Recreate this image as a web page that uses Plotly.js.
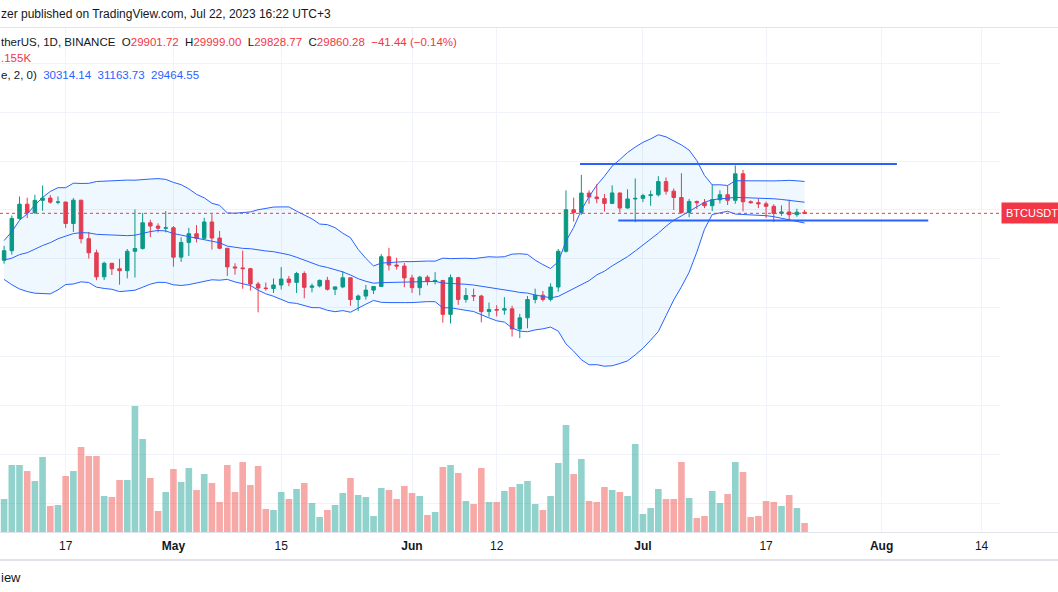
<!DOCTYPE html>
<html>
<head>
<meta charset="utf-8">
<script src="https://cdn.plot.ly/plotly-3.0.1.min.js"></script>
<style>
  html, body { margin: 0; padding: 0; background: #ffffff; overflow: hidden; }
  #chart { width: 1058px; height: 592px; }
</style>
</head>
<body>
<div id="chart"></div>
<script>
// BTCUSDT daily candles, Binance
const dates = [
  '2023-04-09','2023-04-10','2023-04-11','2023-04-12','2023-04-13','2023-04-14','2023-04-15','2023-04-16','2023-04-17','2023-04-18',
  '2023-04-19','2023-04-20','2023-04-21','2023-04-22','2023-04-23','2023-04-24','2023-04-25','2023-04-26','2023-04-27','2023-04-28',
  '2023-04-29','2023-04-30','2023-05-01','2023-05-02','2023-05-03','2023-05-04','2023-05-05','2023-05-06','2023-05-07','2023-05-08',
  '2023-05-09','2023-05-10','2023-05-11','2023-05-12','2023-05-13','2023-05-14','2023-05-15','2023-05-16','2023-05-17','2023-05-18',
  '2023-05-19','2023-05-20','2023-05-21','2023-05-22','2023-05-23','2023-05-24','2023-05-25','2023-05-26','2023-05-27','2023-05-28',
  '2023-05-29','2023-05-30','2023-05-31','2023-06-01','2023-06-02','2023-06-03','2023-06-04','2023-06-05','2023-06-06','2023-06-07',
  '2023-06-08','2023-06-09','2023-06-10','2023-06-11','2023-06-12','2023-06-13','2023-06-14','2023-06-15','2023-06-16','2023-06-17',
  '2023-06-18','2023-06-19','2023-06-20','2023-06-21','2023-06-22','2023-06-23','2023-06-24','2023-06-25','2023-06-26','2023-06-27',
  '2023-06-28','2023-06-29','2023-06-30','2023-07-01','2023-07-02','2023-07-03','2023-07-04','2023-07-05','2023-07-06','2023-07-07',
  '2023-07-08','2023-07-09','2023-07-10','2023-07-11','2023-07-12','2023-07-13','2023-07-14','2023-07-15','2023-07-16','2023-07-17',
  '2023-07-18','2023-07-19','2023-07-20','2023-07-21','2023-07-22'
];

const openP = [
  27941,28333,29652,30235,29884,30390,30485,30318,30322,29445,
  30397,28822,28246,27262,27817,27591,27514,28307,28423,29473,
  29340,29249,29269,28068,28669,29026,28838,29506,28849,28430,
  27668,27628,27598,26969,26805,26784,26930,27171,27036,27399,
  26833,26890,27118,26753,26851,27225,26334,26476,26719,26868,
  28085,27745,27702,27219,26819,27249,27069,27116,25728,27230,
  26339,26499,26477,25841,25925,25902,25954,25129,25587,26336,
  26510,26340,26845,28308,30007,29895,30688,30527,30462,30267,
  30693,30077,30447,30472,30586,30617,31157,30766,30507,29896,
  30346,30292,30171,30415,30620,30391,31476,30335,30297,30249,
  30145,29857,29917,29806,29901.72
];
const highP = [
  28530,29770,30550,30500,30620,31000,30610,30550,30330,30485,
  30412,29100,28374,27882,27820,28000,28400,30020,29880,29599,
  29454,29952,29338,28879,29266,29379,29677,29820,29138,28436,
  27818,28336,27630,27055,27030,27194,27664,27299,27465,27485,
  26988,27150,27264,26857,27495,27225,26538,26931,26888,28193,
  28447,28044,27831,27350,27300,27325,27455,27129,27355,27265,
  26810,26780,26527,26210,26104,26433,26080,25750,26478,26778,
  26684,26998,28402,30800,30500,31431,30800,31046,30650,31006,
  30703,30843,31283,30660,30792,31380,31330,30877,31500,30449,
  30383,30445,31045,30800,30993,31818,31637,30390,30456,30340,
  30233,30184,30418,30050,29999.00
];
const lowP = [
  27800,28170,29600,29666,29842,29966,30255,30230,29266,29100,
  28630,28010,27125,27130,27337,26942,27200,27235,28375,28890,
  29080,29079,27680,27872,28113,28670,28800,28375,28395,27300,
  27351,26776,26702,25811,26700,26601,26745,26878,26600,26386,
  26629,26829,26700,26518,26800,26080,25871,26333,26560,26868,
  27524,27559,26839,26605,26505,26916,26951,25388,25350,26118,
  26210,26269,25400,25634,25641,25712,24820,24756,25160,26179,
  26251,26257,26652,28257,29525,29800,30250,30270,29934,30236,
  29900,30050,29500,30320,30166,30553,30625,29995,29850,29701,
  30037,30072,29950,30263,30200,30251,29940,30254,30071,29667,
  29500,29760,29565,29720,29828.77
];
const closeP = [
  28333,29652,30235,29884,30390,30485,30318,30322,29445,30397,
  28822,28246,27262,27817,27591,27514,28307,28423,29473,29340,
  29249,29269,28068,28669,29026,28838,29506,28849,28430,27668,
  27628,27598,26969,26805,26784,26930,27171,27036,27399,26833,
  26890,27118,26753,26851,27225,26334,26476,26719,26868,28085,
  27745,27702,27219,26819,27249,27069,27116,25728,27230,26339,
  26499,26477,25841,25925,25902,25954,25129,25587,26336,26510,
  26340,26845,28308,30007,29895,30688,30527,30462,30267,30693,
  30077,30447,30472,30586,30617,31157,30766,30507,29896,30346,
  30292,30171,30415,30620,30391,31476,30335,30297,30249,30145,
  29857,29917,29806,29908,29860.28
];

// Volume, thousands of BTC
const volumeK = [
  15.24,30.93,30.93,28.16,23.55,34.63,12.00,12.47,25.86,28.16,
  39.24,35.09,35.09,16.62,16.16,24.01,24.01,58.17,42.94,24.93,
   9.70,18.47,29.09,23.09,29.55,19.39,26.78,22.62,13.85,30.93,
  18.47,32.32,21.70,30.47,10.62,10.16,18.47,15.24,19.85,22.62,
  13.39, 6.93,10.16,12.47,18.01,24.93,17.08,16.16, 7.39,20.31,
  19.39,15.24,21.24,18.01,16.62, 7.85, 9.23,30.01,30.93,27.24,
  14.31,12.93,29.55,13.85,13.85,18.93,20.78,22.16,23.55,12.93,
  10.16,16.62,31.86,49.40,26.78,33.70,14.31,13.85,20.78,19.39,
  18.47,16.62,40.63, 8.31,11.08,19.85,15.24,15.24,32.32,15.70,
   6.46, 7.39,18.93,13.39,17.54,32.32,27.70, 6.93, 7.39,14.31,
  13.85,12.00,17.08,11.08, 4.155
];

// Bollinger Bands (20, close, 2, 0)
const bbBasis = [
  27951,28025,28171,28249,28394,28544,28660,28819,28928,29031,
  29070,29059,29001,28982,28972,28939,28946,28965,29043,29113,
  29159,29140,29032,28971,28903,28821,28780,28707,28656,28519,
  28460,28427,28413,28362,28321,28292,28235,28166,28063,27937,
  27819,27712,27646,27555,27464,27339,27187,27081,27003,27024,
  27029,27034,27047,27048,27071,27078,27076,27010,27002,26977,
  26958,26926,26880,26834,26768,26749,26681,26625,26598,26519,
  26449,26406,26461,26620,26753,26934,27104,27341,27493,27710,
  27889,28088,28319,28553,28789,29049,29331,29577,29755,29947,
  30145,30311,30417,30447,30472,30511,30502,30494,30493,30466,
  30455,30428,30395,30358,30314.14
];
const bbUpper = [
  28745,29109,29575,29837,30194,30510,30754,30909,30908,31092,
  31082,31087,31161,31176,31190,31221,31220,31215,31249,31263,
  31279,31248,31125,31033,30861,30638,30494,30271,30186,29879,
  29865,29881,29917,30006,30075,30116,30123,30122,29950,29801,
  29635,29422,29397,29272,29046,28862,28385,28018,27708,27826,
  27849,27870,27885,27885,27903,27908,27905,28026,28007,28021,
  28022,28007,28060,28085,28069,28085,28191,28207,28180,27945,
  27763,27604,27881,28720,29284,29993,30542,31011,31378,31794,
  32059,32348,32569,32763,32905,33073,32989,32837,32657,32445,
  32017,31411,31023,31029,30999,31193,31188,31185,31186,31168,
  31187,31196,31209,31190,31163.73
];
const bbLower = [
  27157,26940,26767,26660,26593,26577,26566,26729,26948,26969,
  27058,27030,26841,26788,26754,26657,26671,26715,26837,26963,
  27039,27032,26937,26909,26945,27003,27066,27142,27125,27159,
  27053,26973,26908,26717,26567,26468,26347,26210,26175,26073,
  26003,26001,25894,25837,25882,25815,25989,26143,26297,26221,
  26209,26198,26208,26210,26239,26248,26246,25994,25996,25933,
  25893,25844,25700,25582,25466,25412,25171,25042,25016,25093,
  25135,25208,25040,24520,24221,23874,23666,23670,23607,23626,
  23719,23827,24069,24342,24672,25025,25673,26317,26853,27449,
  28272,29211,29810,29865,29944,29829,29815,29802,29799,29763,
  29722,29660,29581,29526,29464.55
];

// Hand-drawn horizontal levels
const resistanceDates = ['2023-06-22 19:40', '2023-08-03 00:00'];
const resistancePrice = [31877, 31877];
const supportDates = ['2023-06-27 19:00', '2023-08-07 01:40'];
const supportPrice = [29566, 29566];

// Time axis labels
const tickDates = ['2023-04-17','2023-05-01','2023-05-15','2023-06-01','2023-06-12','2023-07-01','2023-07-17','2023-08-01','2023-08-14'];
const tickLabels = ['17','<b>May</b>','15','<b>Jun</b>','12','<b>Jul</b>','17','<b>Aug</b>','14'];

const lastClose = closeP[closeP.length - 1];

const UP = '#089981', DOWN = '#F23645', BAND = '#2962FF';
const volColors = closeP.map((c, i) => c >= openP[i] ? 'rgba(38,166,154,0.5)' : 'rgba(239,83,80,0.5)');

// plot area: x 0..1000 px, y 28..532 px
const PW = 1000, PT = 28, PB = 532;
const fx = px => px / PW;
const fy = py => (PB - py) / (PB - PT);
const FONT = 'Liberation Sans, Arial, sans-serif';
const DARK = '#131722';

const traces = [
  { type: 'bar', x: dates, y: volumeK, yaxis: 'y2', marker: { color: volColors, line: { width: 0 } },
    width: 0.86 * 86400000, hoverinfo: 'skip', showlegend: false },
  { type: 'scatter', mode: 'lines', x: dates, y: bbLower, line: { color: BAND, width: 1 },
    hoverinfo: 'skip', showlegend: false },
  { type: 'scatter', mode: 'lines', x: dates, y: bbUpper, line: { color: BAND, width: 1 },
    fill: 'tonexty', fillcolor: 'rgba(33,150,243,0.07)', hoverinfo: 'skip', showlegend: false },
  { type: 'scatter', mode: 'lines', x: dates, y: bbBasis, line: { color: BAND, width: 1 },
    hoverinfo: 'skip', showlegend: false },
  { type: 'candlestick', x: dates, open: openP, high: highP, low: lowP, close: closeP,
    increasing: { line: { color: UP, width: 1 }, fillcolor: UP },
    decreasing: { line: { color: DOWN, width: 1 }, fillcolor: DOWN },
    whiskerwidth: 0, hoverinfo: 'skip', showlegend: false },
  { type: 'scatter', mode: 'lines', x: resistanceDates, y: resistancePrice,
    line: { color: BAND, width: 2 }, hoverinfo: 'skip', showlegend: false },
  { type: 'scatter', mode: 'lines', x: supportDates, y: supportPrice,
    line: { color: BAND, width: 2 }, hoverinfo: 'skip', showlegend: false }
];

const red = s => '<span style="color:#F23645">' + s + '</span>';
const blue = s => '<span style="color:#2962FF">' + s + '</span>';

const layout = {
  width: 1058, height: 592,
  margin: { l: 0, r: 58, t: PT, b: 592 - PB, pad: 0 },
  paper_bgcolor: '#ffffff', plot_bgcolor: '#ffffff',
  showlegend: false,
  boxgap: 0.35,
  font: { family: FONT, color: DARK, size: 12 },
  xaxis: {
    type: 'date',
    range: ['2023-04-08 11:13', '2023-08-16 09:22'],
    rangeslider: { visible: false },
    tickmode: 'array', tickvals: tickDates, ticktext: tickLabels,
    showgrid: true, gridcolor: '#F0F3FA', gridwidth: 1,
    zeroline: false, showline: false, ticks: '',
    ticklabelstandoff: 5,
    tickfont: { family: FONT, size: 12, color: DARK },
    fixedrange: true
  },
  yaxis: {
    range: [16826, 37440],
    dtick: 2000, tick0: 0,
    showgrid: true, gridcolor: '#F0F3FA', gridwidth: 1,
    showticklabels: false, zeroline: false, showline: false, ticks: '',
    fixedrange: true
  },
  yaxis2: {
    overlaying: 'y', range: [0, 504 * 4.155 / 9],
    showgrid: false, showticklabels: false, zeroline: false, showline: false, ticks: '',
    fixedrange: true
  },
  shapes: [
    // last price line
    { type: 'line', xref: 'paper', yref: 'y', x0: 0, x1: 1, y0: lastClose, y1: lastClose,
      line: { color: DOWN, width: 1, dash: 'dot' } },
    // header separator
    { type: 'line', xref: 'paper', yref: 'paper', x0: 0, x1: 1.058, y0: fy(27.5), y1: fy(27.5),
      line: { color: '#E0E3EB', width: 1 } },
    // time axis top border
    { type: 'line', xref: 'paper', yref: 'paper', x0: 0, x1: 1.058, y0: fy(532.5), y1: fy(532.5),
      line: { color: '#E0E3EB', width: 1 } },
    // bottom border
    { type: 'line', xref: 'paper', yref: 'paper', x0: 0, x1: 1.058, y0: fy(560), y1: fy(560),
      line: { color: '#E0E3EB', width: 2 } }
  ],
  annotations: [
    { xref: 'paper', yref: 'paper', x: fx(-1), y: fy(14), xanchor: 'left', yanchor: 'middle',
      showarrow: false, font: { family: FONT, size: 12, color: DARK },
      text: 'zer published on TradingView.com, Jul 22, 2023 16:22 UTC+3' },
    { xref: 'paper', yref: 'paper', x: fx(-1), y: fy(42), xanchor: 'left', yanchor: 'middle',
      showarrow: false, font: { family: FONT, size: 11.5, color: DARK },
      text: 'therUS, 1D, BINANCE  O' + red('29901.72') + '  H' + red('29999.00') + '  L' + red('29828.77') +
            '  C' + red('29860.28') + '  ' + red('\u221241.44 (\u22120.14%)') },
    { xref: 'paper', yref: 'paper', x: fx(-1), y: fy(58), xanchor: 'left', yanchor: 'middle',
      showarrow: false, font: { family: FONT, size: 11.5, color: DOWN }, text: '.155K' },
    { xref: 'paper', yref: 'paper', x: fx(-1), y: fy(75), xanchor: 'left', yanchor: 'middle',
      showarrow: false, font: { family: FONT, size: 11.5, color: DARK },
      text: 'e, 2, 0)  ' + blue('30314.14') + '  ' + blue('31163.73') + '  ' + blue('29464.55') },
    { xref: 'paper', yref: 'y', x: fx(1001), y: lastClose, xanchor: 'left', yanchor: 'middle',
      showarrow: false, bgcolor: DOWN, borderpad: 4,
      font: { family: FONT, size: 11, color: '#ffffff' }, text: 'BTCUSDT' },
    { xref: 'paper', yref: 'paper', x: fx(-1), y: fy(577), xanchor: 'left', yanchor: 'middle',
      showarrow: false, font: { family: FONT, size: 13, color: DARK }, text: 'iew' }
  ]
};

Plotly.newPlot('chart', traces, layout, { displayModeBar: false, staticPlot: true });
</script>
</body>
</html>
